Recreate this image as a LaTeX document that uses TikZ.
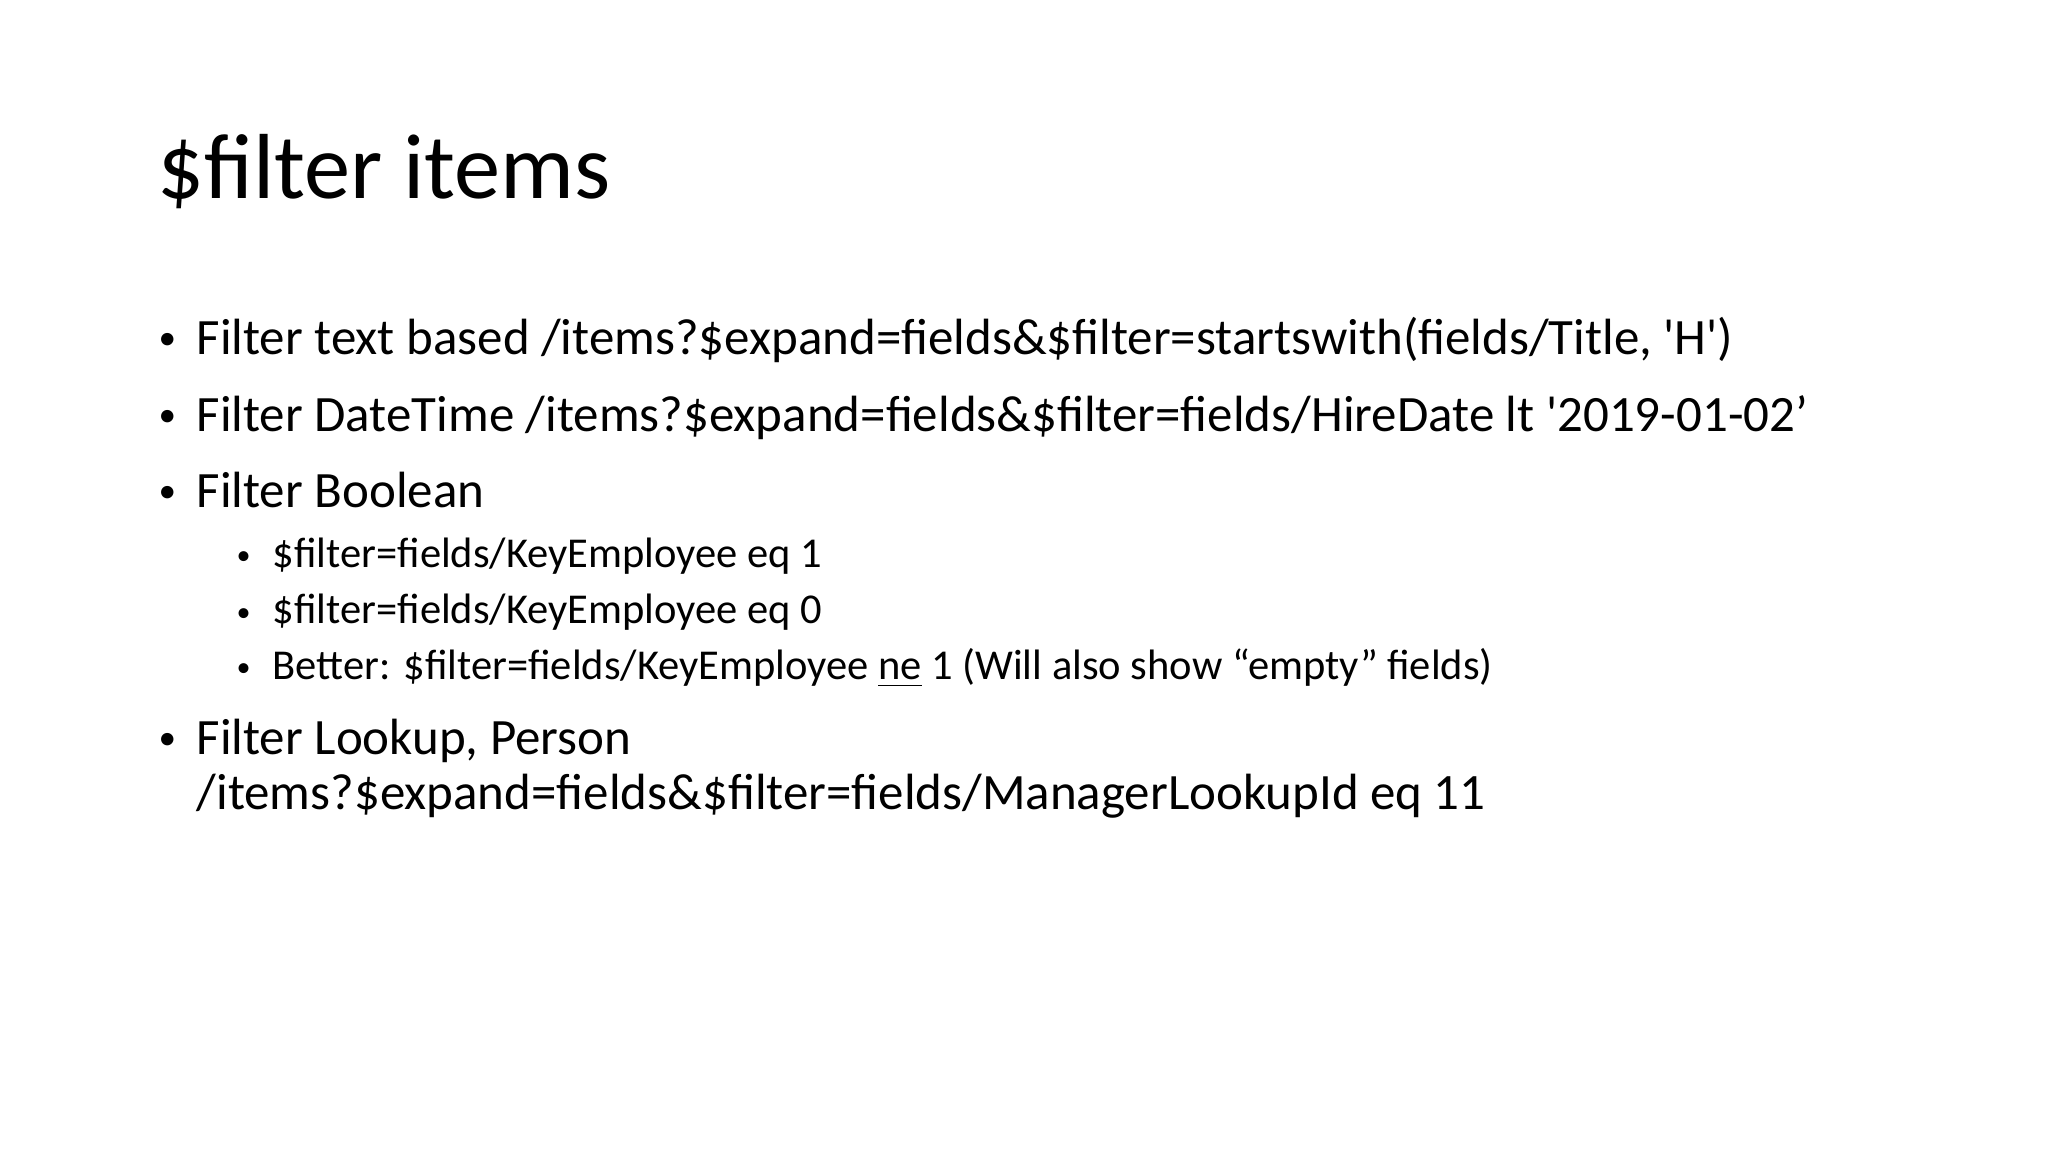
\documentclass[tikz,border=0pt]{standalone}
\usepackage{fontspec}
\setmainfont{Carlito}
\usetikzlibrary{positioning}
\tikzset{
  txt/.style={anchor=base west, inner sep=0pt},
  big/.style={txt, font=\fontsize{14.5}{17}\selectfont},
  small/.style={txt, font=\fontsize{12.1}{14}\selectfont},
  dot/.style={txt, font=\fontsize{10}{12}\selectfont}
}
\begin{document}
\begin{tikzpicture}
	[x=1cm, y=-1cm]
   \useasboundingbox (0,0) rectangle (20.48,11.52);
   \node[txt, font=\fontsize{26.3}{32}\selectfont] (title) at (1.567,1.985) {\$filter items};
   % first level
   \node[dot] (b_1) at (1.58,3.50) {\textbullet};
   \node[big] (l_1) at (1.96,3.55) {Filter text based /items?\$expand=fields\&\$filter=startswith(fields/Title, \textquotesingle H\textquotesingle)};
   \node[dot] (b_2) at (1.58,4.27) {\textbullet};
   \node[big] (l_2) at (1.96,4.32) {Filter DateTime /items?\$expand=fields\&\$filter=fields/HireDate lt \textquotesingle 2019-01-02’};
   \node[dot] (b_3) at (1.58,5.03) {\textbullet};
   \node[big] (l_3) at (1.96,5.08) {Filter Boolean};
   % second level
   \node[dot, font=\fontsize{8}{10}\selectfont] (s_1) at (2.36,5.65) {\textbullet};
   \node[small] (m_1) at (2.72,5.68) {\$filter=fields/KeyEmployee eq 1};
   \node[dot, font=\fontsize{8}{10}\selectfont] (s_2) at (2.36,6.21) {\textbullet};
   \node[small] (m_2) at (2.72,6.24) {\$filter=fields/KeyEmployee eq 0};
   \node[dot, font=\fontsize{8}{10}\selectfont] (s_3) at (2.36,6.77) {\textbullet};
   \node[small] (m_3) at (2.72,6.80) {Better: \$filter=fields/KeyEmployee \underline{ne} 1 (Will also show “empty” fields)};
   % last item
   \node[dot] (b_4) at (1.58,7.50) {\textbullet};
   \node[big] (l_4) at (1.96,7.55) {Filter Lookup, Person};
   \node[big] (l_5) at (1.96,8.10) {/items?\$expand=fields\&\$filter=fields/ManagerLookupId eq 11};
\end{tikzpicture}
\end{document}
